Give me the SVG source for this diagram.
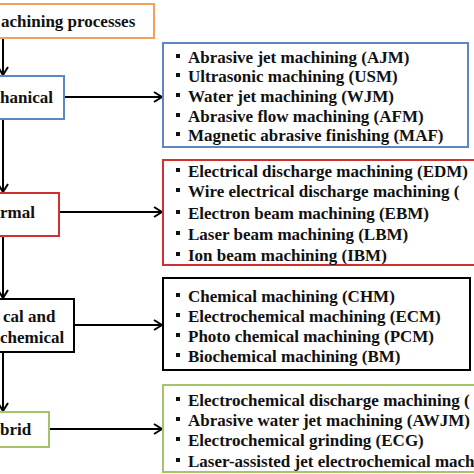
<svg xmlns="http://www.w3.org/2000/svg" width="474" height="474" viewBox="0 0 474 474">
<defs>
<style>
.t{font-family:"Liberation Serif","Times New Roman",serif;font-weight:bold;font-size:17px;fill:#111}
.b{fill:#fff;stroke-width:2}
.c{stroke:#000;stroke-width:2;fill:none}
</style>
<marker id="ah" markerWidth="10" markerHeight="12" refX="9" refY="6" orient="auto" markerUnits="userSpaceOnUse">
<path d="M1,1 L9,6 L1,11" fill="none" stroke="#000" stroke-width="2"/>
</marker>
<rect id="blt" x="0" y="-4" width="4" height="4" fill="#111"/>
</defs>
<rect width="474" height="474" fill="#fff"/>
<g id="connectors">
<path class="c" d="M3,38 V75" marker-end="url(#ah)"/>
<path class="c" d="M3,119 V192" marker-end="url(#ah)"/>
<path class="c" d="M3,236 V298" marker-end="url(#ah)"/>
<path class="c" d="M3,352 V411" marker-end="url(#ah)"/>
<path class="c" d="M64,97 H162" marker-end="url(#ah)"/>
<path class="c" d="M59,212 H162" marker-end="url(#ah)"/>
<path class="c" d="M74,325 H162" marker-end="url(#ah)"/>
<path class="c" d="M49,429 H162" marker-end="url(#ah)"/>
</g>
<g id="root">
<rect class="b" x="-5" y="4" width="159" height="34" stroke="#f2a05a"/>
<text class="t" x="1" y="27">achining processes</text>
</g>
<g id="mechanical">
<rect class="b" x="-5" y="76" width="69" height="43" stroke="#5b87c5"/>
<text class="t" x="0" y="103">hanical</text>
</g>
<g id="thermal">
<rect class="b" x="-5" y="193" width="64" height="43" stroke="#d03030"/>
<text class="t" x="0" y="218">rmal</text>
</g>
<g id="chemical">
<rect class="b" x="-5" y="299" width="79" height="53" stroke="#000"/>
<text class="t" x="3" y="322">cal and</text>
<text class="t" x="0" y="343">chemical</text>
</g>
<g id="hybrid">
<rect class="b" x="-5" y="412" width="54" height="35" stroke="#a5c46a"/>
<text class="t" x="0" y="435">brid</text>
</g>
<g id="list-mechanical">
<rect class="b" x="163" y="43" width="305" height="104" stroke="#5b87c5"/>
<use href="#blt" x="176" y="58"/><text class="t" x="188" y="63">Abrasive jet machining (AJM)</text>
<use href="#blt" x="176" y="77"/><text class="t" x="188" y="82">Ultrasonic machining (USM)</text>
<use href="#blt" x="176" y="97"/><text class="t" x="188" y="102">Water jet machining (WJM)</text>
<use href="#blt" x="176" y="117"/><text class="t" x="188" y="122">Abrasive flow machining (AFM)</text>
<use href="#blt" x="176" y="136"/><text class="t" x="188" y="141">Magnetic abrasive finishing (MAF)</text>
</g>
<g id="list-thermal">
<rect class="b" x="163" y="160" width="320" height="105" stroke="#d03030"/>
<use href="#blt" x="176" y="172"/><text class="t" x="188" y="177">Electrical discharge machining (EDM)</text>
<use href="#blt" x="176" y="192"/><text class="t" x="188" y="197">Wire electrical discharge machining (</text>
<use href="#blt" x="176" y="214"/><text class="t" x="188" y="219">Electron beam machining (EBM)</text>
<use href="#blt" x="176" y="235"/><text class="t" x="188" y="240">Laser beam machining (LBM)</text>
<use href="#blt" x="176" y="256"/><text class="t" x="188" y="261">Ion beam machining (IBM)</text>
</g>
<g id="list-chemical">
<rect class="b" x="163" y="278" width="307" height="92" stroke="#000"/>
<use href="#blt" x="176" y="297"/><text class="t" x="188" y="302">Chemical machining (CHM)</text>
<use href="#blt" x="176" y="317"/><text class="t" x="188" y="322">Electrochemical machining (ECM)</text>
<use href="#blt" x="176" y="337"/><text class="t" x="188" y="342">Photo chemical machining (PCM)</text>
<use href="#blt" x="176" y="357"/><text class="t" x="188" y="362">Biochemical machining (BM)</text>
</g>
<g id="list-hybrid">
<rect class="b" x="163" y="385" width="320" height="87" stroke="#a5c46a"/>
<use href="#blt" x="176" y="401"/><text class="t" x="188" y="406">Electrochemical discharge machining (</text>
<use href="#blt" x="176" y="421"/><text class="t" x="188" y="426">Abrasive water jet machining (AWJM)</text>
<use href="#blt" x="176" y="441"/><text class="t" x="188" y="446">Electrochemical grinding (ECG)</text>
<use href="#blt" x="176" y="462"/><text class="t" x="188" y="467">Laser-assisted jet electrochemical mach</text>
</g>
</svg>
